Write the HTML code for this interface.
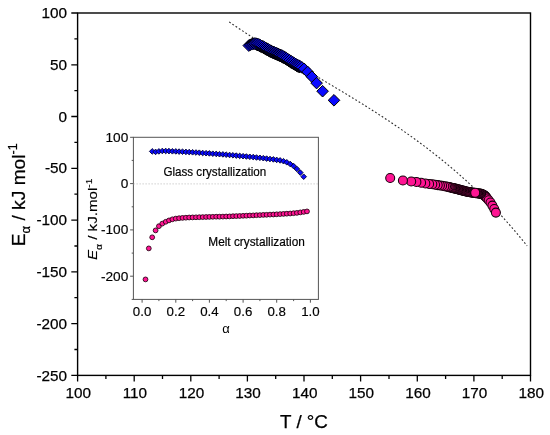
<!DOCTYPE html>
<html><head><meta charset="utf-8"><title>E alpha vs T</title>
<style>
html,body{margin:0;padding:0;background:#fff}
body{width:550px;height:435px;overflow:hidden}
svg{display:block}
text{font-family:"Liberation Sans",Arial,Helvetica,sans-serif;fill:#000}
.tl{font-size:15.3px;stroke:#000;stroke-width:0.25px}
.it{font-size:12.8px;stroke:#000;stroke-width:0.15px}
.lb{font-size:13.6px;stroke:#000;stroke-width:0.2px}
</style></head><body>
<svg width="550" height="435" viewBox="0 0 550 435">
<rect width="550" height="435" fill="#fff"/>
<path d="M229.2 21.9 L232.5 24.2 L235.9 26.5 L239.2 28.7 L242.6 30.9 L245.9 33.1 L249.3 35.3 L252.6 37.5 L256.0 39.6 L259.3 41.7 L262.7 43.8 L266.0 45.9 L269.4 48.0 L272.7 50.1 L276.1 52.1 L279.4 54.1 L282.8 56.2 L286.1 58.2 L289.4 60.2 L292.8 62.2 L296.1 64.2 L299.5 66.2 L302.8 68.2 L306.2 70.2 L309.5 72.2 L312.9 74.2 L316.2 76.1 L319.6 78.1 L322.9 80.1 L326.3 82.1 L329.6 84.1 L333.0 86.1 L336.3 88.1 L339.7 90.1 L343.0 92.1 L346.4 94.1 L349.7 96.2 L353.0 98.2 L356.4 100.3 L359.7 102.3 L363.1 104.4 L366.4 106.5 L369.8 108.6 L373.1 110.8 L376.5 112.9 L379.8 115.1 L383.2 117.3 L386.5 119.5 L389.9 121.7 L393.2 124.0 L396.6 126.2 L399.9 128.5 L403.3 130.9 L406.6 133.2 L409.9 135.6 L413.3 138.0 L416.6 140.4 L420.0 142.9 L423.3 145.4 L426.7 147.9 L430.0 150.5 L433.4 153.1 L436.7 155.7 L440.1 158.4 L443.4 161.1 L446.8 163.9 L450.1 166.7 L453.5 169.5 L456.8 172.4 L460.2 175.3 L463.5 178.3 L466.9 181.3 L470.2 184.4 L473.5 187.5 L476.9 190.7 L480.2 194.0 L483.6 197.3 L486.9 200.6 L490.3 204.0 L493.6 207.5 L497.0 211.0 L500.3 214.6 L503.7 218.3 L507.0 222.0 L510.4 225.8 L513.7 229.7 L517.1 233.6 L520.4 237.6 L523.8 241.7 L527.1 245.9" fill="none" stroke="#2a2a2a" stroke-width="1.1" stroke-dasharray="1.8 2.1"/>
<g fill="#0a0aff" stroke="#000" stroke-width="1">
<path d="M250.7 44.6l5.8 -5.8l5.8 5.8l-5.8 5.8zM252.2 45.2l5.8 -5.8l5.8 5.8l-5.8 5.8zM253.6 45.9l5.8 -5.8l5.8 5.8l-5.8 5.8zM255.1 46.6l5.8 -5.8l5.8 5.8l-5.8 5.8zM256.6 47.3l5.8 -5.8l5.8 5.8l-5.8 5.8zM258.0 48.1l5.8 -5.8l5.8 5.8l-5.8 5.8zM259.3 48.8l5.8 -5.8l5.8 5.8l-5.8 5.8zM260.6 49.5l5.8 -5.8l5.8 5.8l-5.8 5.8zM261.8 50.2l5.8 -5.8l5.8 5.8l-5.8 5.8zM263.1 50.9l5.8 -5.8l5.8 5.8l-5.8 5.8zM264.3 51.5l5.8 -5.8l5.8 5.8l-5.8 5.8zM265.4 52.1l5.8 -5.8l5.8 5.8l-5.8 5.8zM266.6 52.6l5.8 -5.8l5.8 5.8l-5.8 5.8zM267.8 53.1l5.8 -5.8l5.8 5.8l-5.8 5.8zM269.0 53.6l5.8 -5.8l5.8 5.8l-5.8 5.8zM270.2 54.1l5.8 -5.8l5.8 5.8l-5.8 5.8zM271.3 54.6l5.8 -5.8l5.8 5.8l-5.8 5.8zM272.4 55.1l5.8 -5.8l5.8 5.8l-5.8 5.8zM273.5 55.6l5.8 -5.8l5.8 5.8l-5.8 5.8zM274.7 56.2l5.8 -5.8l5.8 5.8l-5.8 5.8zM275.9 56.7l5.8 -5.8l5.8 5.8l-5.8 5.8zM277.1 57.4l5.8 -5.8l5.8 5.8l-5.8 5.8zM278.5 58.2l5.8 -5.8l5.8 5.8l-5.8 5.8zM279.9 59.0l5.8 -5.8l5.8 5.8l-5.8 5.8zM281.4 60.0l5.8 -5.8l5.8 5.8l-5.8 5.8zM283.0 61.0l5.8 -5.8l5.8 5.8l-5.8 5.8zM284.7 62.1l5.8 -5.8l5.8 5.8l-5.8 5.8zM286.3 63.1l5.8 -5.8l5.8 5.8l-5.8 5.8zM287.9 64.1l5.8 -5.8l5.8 5.8l-5.8 5.8zM289.4 64.9l5.8 -5.8l5.8 5.8l-5.8 5.8zM290.7 65.7l5.8 -5.8l5.8 5.8l-5.8 5.8zM292.1 66.4l5.8 -5.8l5.8 5.8l-5.8 5.8zM293.6 67.2l5.8 -5.8l5.8 5.8l-5.8 5.8z" fill="#000"/>
<path d="M243.0 45.6l5.8 -5.8l5.8 5.8l-5.8 5.8z"/>
<path d="M244.4 44.8l5.8 -5.8l5.8 5.8l-5.8 5.8z"/>
<path d="M245.8 44.3l5.8 -5.8l5.8 5.8l-5.8 5.8z"/>
<path d="M247.2 43.9l5.8 -5.8l5.8 5.8l-5.8 5.8z"/>
<path d="M248.6 43.6l5.8 -5.8l5.8 5.8l-5.8 5.8z"/>
<path d="M250.1 43.5l5.8 -5.8l5.8 5.8l-5.8 5.8z"/>
<path d="M251.5 43.8l5.8 -5.8l5.8 5.8l-5.8 5.8z"/>
<path d="M253.0 44.4l5.8 -5.8l5.8 5.8l-5.8 5.8z"/>
<path d="M254.4 45.1l5.8 -5.8l5.8 5.8l-5.8 5.8z"/>
<path d="M255.9 45.8l5.8 -5.8l5.8 5.8l-5.8 5.8z"/>
<path d="M257.4 46.5l5.8 -5.8l5.8 5.8l-5.8 5.8z"/>
<path d="M258.8 47.3l5.8 -5.8l5.8 5.8l-5.8 5.8z"/>
<path d="M260.1 48.0l5.8 -5.8l5.8 5.8l-5.8 5.8z"/>
<path d="M261.4 48.7l5.8 -5.8l5.8 5.8l-5.8 5.8z"/>
<path d="M262.6 49.4l5.8 -5.8l5.8 5.8l-5.8 5.8z"/>
<path d="M263.9 50.1l5.8 -5.8l5.8 5.8l-5.8 5.8z"/>
<path d="M265.1 50.7l5.8 -5.8l5.8 5.8l-5.8 5.8z"/>
<path d="M266.2 51.3l5.8 -5.8l5.8 5.8l-5.8 5.8z"/>
<path d="M267.4 51.8l5.8 -5.8l5.8 5.8l-5.8 5.8z"/>
<path d="M268.6 52.3l5.8 -5.8l5.8 5.8l-5.8 5.8z"/>
<path d="M269.8 52.8l5.8 -5.8l5.8 5.8l-5.8 5.8z"/>
<path d="M271.0 53.3l5.8 -5.8l5.8 5.8l-5.8 5.8z"/>
<path d="M272.1 53.8l5.8 -5.8l5.8 5.8l-5.8 5.8z"/>
<path d="M273.2 54.3l5.8 -5.8l5.8 5.8l-5.8 5.8z"/>
<path d="M274.3 54.8l5.8 -5.8l5.8 5.8l-5.8 5.8z"/>
<path d="M275.5 55.4l5.8 -5.8l5.8 5.8l-5.8 5.8z"/>
<path d="M276.7 55.9l5.8 -5.8l5.8 5.8l-5.8 5.8z"/>
<path d="M277.9 56.6l5.8 -5.8l5.8 5.8l-5.8 5.8z"/>
<path d="M279.3 57.4l5.8 -5.8l5.8 5.8l-5.8 5.8z"/>
<path d="M280.7 58.2l5.8 -5.8l5.8 5.8l-5.8 5.8z"/>
<path d="M282.2 59.2l5.8 -5.8l5.8 5.8l-5.8 5.8z"/>
<path d="M283.8 60.2l5.8 -5.8l5.8 5.8l-5.8 5.8z"/>
<path d="M285.5 61.3l5.8 -5.8l5.8 5.8l-5.8 5.8z"/>
<path d="M287.1 62.3l5.8 -5.8l5.8 5.8l-5.8 5.8z"/>
<path d="M288.7 63.3l5.8 -5.8l5.8 5.8l-5.8 5.8z"/>
<path d="M290.2 64.1l5.8 -5.8l5.8 5.8l-5.8 5.8z"/>
<path d="M291.5 64.9l5.8 -5.8l5.8 5.8l-5.8 5.8z"/>
<path d="M292.9 65.6l5.8 -5.8l5.8 5.8l-5.8 5.8z"/>
<path d="M294.4 66.4l5.8 -5.8l5.8 5.8l-5.8 5.8z"/>
<path d="M296.1 67.4l5.8 -5.8l5.8 5.8l-5.8 5.8z"/>
<path d="M298.3 68.8l5.8 -5.8l5.8 5.8l-5.8 5.8z"/>
<path d="M301.8 71.9l5.8 -5.8l5.8 5.8l-5.8 5.8z"/>
<path d="M306.1 76.7l5.8 -5.8l5.8 5.8l-5.8 5.8z"/>
<path d="M310.8 83.1l5.8 -5.8l5.8 5.8l-5.8 5.8z"/>
<path d="M316.8 91.2l5.8 -5.8l5.8 5.8l-5.8 5.8z"/>
<path d="M328.2 100.3l5.8 -5.8l5.8 5.8l-5.8 5.8z"/>
</g>
<g fill="#ff1493" stroke="#14000a" stroke-width="1.05">
<circle cx="481.9" cy="194.1" r="4.5"/>
<circle cx="482.6" cy="194.4" r="4.5"/>
<circle cx="483.3" cy="194.8" r="4.5"/>
<circle cx="484.0" cy="195.2" r="4.5"/>
<circle cx="484.6" cy="195.6" r="4.5"/>
<circle cx="485.2" cy="196.1" r="4.5"/>
<circle cx="485.7" cy="196.6" r="4.5"/>
<circle cx="486.2" cy="197.3" r="4.5"/>
<circle cx="487.2" cy="198.5" r="4.5"/>
<circle cx="488.7" cy="200.2" r="4.5"/>
<circle cx="490.5" cy="202.5" r="4.5"/>
<circle cx="492.4" cy="205.6" r="4.5"/>
<circle cx="494.3" cy="209.0" r="4.5"/>
<circle cx="495.9" cy="212.6" r="4.5"/>
<circle cx="481.1" cy="193.8" r="4.5"/>
<circle cx="480.4" cy="193.7" r="4.5"/>
<circle cx="479.6" cy="193.6" r="4.5"/>
<circle cx="478.9" cy="193.4" r="4.5"/>
<circle cx="478.1" cy="193.4" r="4.5"/>
<circle cx="477.3" cy="193.3" r="4.5"/>
<circle cx="476.5" cy="193.2" r="4.5"/>
<circle cx="475.7" cy="193.1" r="4.5"/>
<circle cx="475.0" cy="193.0" r="4.5"/>
<circle cx="474.2" cy="192.9" r="4.5"/>
<circle cx="473.4" cy="192.8" r="4.5"/>
<circle cx="472.6" cy="192.7" r="4.5"/>
<circle cx="471.9" cy="192.5" r="4.5"/>
<circle cx="471.1" cy="192.4" r="4.5"/>
<circle cx="470.3" cy="192.3" r="4.5"/>
<circle cx="469.6" cy="192.2" r="4.5"/>
<circle cx="468.8" cy="192.0" r="4.5"/>
<circle cx="468.0" cy="191.9" r="4.5"/>
<circle cx="467.3" cy="191.7" r="4.5"/>
<circle cx="466.5" cy="191.5" r="4.5"/>
<circle cx="465.8" cy="191.4" r="4.5"/>
<circle cx="465.0" cy="191.2" r="4.5"/>
<circle cx="464.2" cy="191.0" r="4.5"/>
<circle cx="463.5" cy="190.8" r="4.5"/>
<circle cx="462.7" cy="190.6" r="4.5"/>
<circle cx="462.0" cy="190.4" r="4.5"/>
<circle cx="461.2" cy="190.2" r="4.5"/>
<circle cx="460.5" cy="190.0" r="4.5"/>
<circle cx="459.7" cy="189.8" r="4.5"/>
<circle cx="459.0" cy="189.6" r="4.5"/>
<circle cx="458.2" cy="189.4" r="4.5"/>
<circle cx="457.5" cy="189.2" r="4.5"/>
<circle cx="456.7" cy="189.0" r="4.5"/>
<circle cx="455.9" cy="188.8" r="4.5"/>
<circle cx="455.2" cy="188.6" r="4.5"/>
<circle cx="454.4" cy="188.4" r="4.5"/>
<circle cx="453.7" cy="188.3" r="4.5"/>
<circle cx="452.9" cy="188.1" r="4.5"/>
<circle cx="452.1" cy="187.9" r="4.5"/>
<circle cx="451.4" cy="187.7" r="4.5"/>
<circle cx="450.5" cy="187.5" r="4.5"/>
<circle cx="449.6" cy="187.3" r="4.5"/>
<circle cx="448.6" cy="187.1" r="4.5"/>
<circle cx="447.4" cy="186.8" r="4.5"/>
<circle cx="446.0" cy="186.5" r="4.5"/>
<circle cx="444.3" cy="186.2" r="4.5"/>
<circle cx="442.1" cy="185.8" r="4.5"/>
<circle cx="439.9" cy="185.4" r="4.5"/>
<circle cx="437.7" cy="185.1" r="4.5"/>
<circle cx="435.1" cy="184.7" r="4.5"/>
<circle cx="432.3" cy="184.3" r="4.5"/>
<circle cx="429.1" cy="183.9" r="4.5"/>
<circle cx="425.3" cy="183.4" r="4.5"/>
<circle cx="421.1" cy="182.8" r="4.5"/>
<circle cx="416.4" cy="181.9" r="4.5"/>
<circle cx="411.2" cy="181.5" r="4.5"/>
<circle cx="402.9" cy="180.5" r="4.5"/>
<circle cx="390.2" cy="178.0" r="4.5"/>
<circle cx="475.2" cy="192.8" r="4.5"/>
</g>
<rect x="77.6" y="13" width="452.9" height="362.4" fill="none" stroke="#000" stroke-width="1.4"/>
<path d="M77.6 375.4h-6.3M77.6 349.5h-3.2M77.6 323.6h-6.3M77.6 297.7h-3.2M77.6 271.9h-6.3M77.6 246.0h-3.2M77.6 220.1h-6.3M77.6 194.2h-3.2M77.6 168.3h-6.3M77.6 142.4h-3.2M77.6 116.5h-6.3M77.6 90.7h-3.2M77.6 64.8h-6.3M77.6 38.9h-3.2M77.6 13.0h-6.3M77.6 375.4v6.0M105.9 375.4v3.6M134.2 375.4v6.0M162.5 375.4v3.6M190.8 375.4v6.0M219.1 375.4v3.6M247.4 375.4v6.0M275.7 375.4v3.6M304.0 375.4v6.0M332.3 375.4v3.6M360.6 375.4v6.0M389.0 375.4v3.6M417.3 375.4v6.0M445.6 375.4v3.6M473.9 375.4v6.0M502.2 375.4v3.6M530.5 375.4v6.0" stroke="#000" stroke-width="1.3" fill="none"/>
<text class="tl" x="67.1" y="380.5" text-anchor="end">-250</text>
<text class="tl" x="67.1" y="328.7" text-anchor="end">-200</text>
<text class="tl" x="67.1" y="277.0" text-anchor="end">-150</text>
<text class="tl" x="67.1" y="225.2" text-anchor="end">-100</text>
<text class="tl" x="67.1" y="173.4" text-anchor="end">-50</text>
<text class="tl" x="67.1" y="121.6" text-anchor="end">0</text>
<text class="tl" x="67.1" y="69.9" text-anchor="end">50</text>
<text class="tl" x="67.1" y="18.1" text-anchor="end">100</text>
<text class="tl" x="78.3" y="398.1" text-anchor="middle">100</text>
<text class="tl" x="134.9" y="398.1" text-anchor="middle">110</text>
<text class="tl" x="191.5" y="398.1" text-anchor="middle">120</text>
<text class="tl" x="248.1" y="398.1" text-anchor="middle">130</text>
<text class="tl" x="304.7" y="398.1" text-anchor="middle">140</text>
<text class="tl" x="361.3" y="398.1" text-anchor="middle">150</text>
<text class="tl" x="418.0" y="398.1" text-anchor="middle">160</text>
<text class="tl" x="474.6" y="398.1" text-anchor="middle">170</text>
<text class="tl" x="531.2" y="398.1" text-anchor="middle">180</text>
<text x="304" y="427.5" text-anchor="middle" font-size="18.8px" stroke="#000" stroke-width="0.25">T / °C</text>
<text transform="translate(24.8 246.2) rotate(-90)" font-size="19.2px" stroke="#000" stroke-width="0.25">E<tspan font-size="13px" dy="5.5">α</tspan><tspan dy="-5.5"> / kJ mol</tspan><tspan font-size="12.5px" dy="-7.5">-1</tspan></text>
<rect x="133.4" y="137.3" width="185" height="162.1" fill="#fff" stroke="#555" stroke-width="1"/>
<path d="M133.4 183.9H318.4" stroke="#c4c4c4" stroke-width="0.8" stroke-dasharray="1.5 1.5" fill="none"/>
<path d="M133.4 299.4h-1.7M133.4 276.2h-3.3M133.4 253.1h-1.7M133.4 229.9h-3.3M133.4 206.8h-1.7M133.4 183.6h-3.3M133.4 160.4h-1.7M133.4 137.3h-3.3M142.1 299.4v3.3M158.9 299.4v1.7M175.8 299.4v3.3M192.6 299.4v1.7M209.4 299.4v3.3M226.2 299.4v1.7M243.1 299.4v3.3M259.9 299.4v1.7M276.7 299.4v3.3M293.6 299.4v1.7M310.4 299.4v3.3" stroke="#555" stroke-width="1" fill="none"/>
<text class="it" x="128.3" y="141.7" text-anchor="end" textLength="22.8" lengthAdjust="spacingAndGlyphs">100</text>
<text class="it" x="128.3" y="188.0" text-anchor="end" textLength="7.6" lengthAdjust="spacingAndGlyphs">0</text>
<text class="it" x="128.3" y="234.3" text-anchor="end" textLength="27.4" lengthAdjust="spacingAndGlyphs">-100</text>
<text class="it" x="128.3" y="280.6" text-anchor="end" textLength="27.4" lengthAdjust="spacingAndGlyphs">-200</text>
<text class="it" x="142.1" y="316.4" text-anchor="middle" textLength="18.5" lengthAdjust="spacingAndGlyphs">0.0</text>
<text class="it" x="175.8" y="316.4" text-anchor="middle" textLength="18.5" lengthAdjust="spacingAndGlyphs">0.2</text>
<text class="it" x="209.4" y="316.4" text-anchor="middle" textLength="18.5" lengthAdjust="spacingAndGlyphs">0.4</text>
<text class="it" x="243.1" y="316.4" text-anchor="middle" textLength="18.5" lengthAdjust="spacingAndGlyphs">0.6</text>
<text class="it" x="276.7" y="316.4" text-anchor="middle" textLength="18.5" lengthAdjust="spacingAndGlyphs">0.8</text>
<text class="it" x="310.4" y="316.4" text-anchor="middle" textLength="18.5" lengthAdjust="spacingAndGlyphs">1.0</text>
<text x="226" y="332.6" text-anchor="middle" font-size="13px">α</text>
<text transform="translate(97.2 260) rotate(-90) scale(1.21 1)" font-size="12.5px" stroke="#000" stroke-width="0.15"><tspan font-style="italic">E</tspan><tspan font-size="8.5px" dy="4.5">α</tspan><tspan dy="-4.5"> / kJ.mol</tspan><tspan font-size="8.5px" dy="-5">-1</tspan></text>
<text class="lb" x="163.4" y="175.6" textLength="102.8" lengthAdjust="spacingAndGlyphs">Glass crystallization</text>
<text class="lb" x="208.3" y="246.2" textLength="96.6" lengthAdjust="spacingAndGlyphs">Melt crystallization</text>
<g fill="#ff1493" stroke="#20000f" stroke-width="0.85">
<circle cx="145.5" cy="279.4" r="2.4"/>
<circle cx="148.8" cy="248.4" r="2.4"/>
<circle cx="152.2" cy="237.3" r="2.4"/>
<circle cx="155.6" cy="230.4" r="2.4"/>
<circle cx="158.9" cy="226.2" r="2.4"/>
<circle cx="162.3" cy="223.6" r="2.4"/>
<circle cx="165.7" cy="221.8" r="2.4"/>
<circle cx="169.0" cy="220.4" r="2.4"/>
<circle cx="172.4" cy="219.3" r="2.4"/>
<circle cx="175.8" cy="218.6" r="2.4"/>
<circle cx="179.1" cy="218.2" r="2.4"/>
<circle cx="182.5" cy="217.9" r="2.4"/>
<circle cx="185.9" cy="217.7" r="2.4"/>
<circle cx="189.2" cy="217.5" r="2.4"/>
<circle cx="192.6" cy="217.4" r="2.4"/>
<circle cx="196.0" cy="217.3" r="2.4"/>
<circle cx="199.3" cy="217.2" r="2.4"/>
<circle cx="202.7" cy="217.1" r="2.4"/>
<circle cx="206.1" cy="217.0" r="2.4"/>
<circle cx="209.4" cy="216.9" r="2.4"/>
<circle cx="212.8" cy="216.8" r="2.4"/>
<circle cx="216.2" cy="216.7" r="2.4"/>
<circle cx="219.5" cy="216.7" r="2.4"/>
<circle cx="222.9" cy="216.6" r="2.4"/>
<circle cx="226.2" cy="216.5" r="2.4"/>
<circle cx="229.6" cy="216.4" r="2.4"/>
<circle cx="233.0" cy="216.2" r="2.4"/>
<circle cx="236.3" cy="216.1" r="2.4"/>
<circle cx="239.7" cy="216.0" r="2.4"/>
<circle cx="243.1" cy="215.8" r="2.4"/>
<circle cx="246.4" cy="215.7" r="2.4"/>
<circle cx="249.8" cy="215.5" r="2.4"/>
<circle cx="253.2" cy="215.4" r="2.4"/>
<circle cx="256.5" cy="215.2" r="2.4"/>
<circle cx="259.9" cy="215.1" r="2.4"/>
<circle cx="263.3" cy="214.9" r="2.4"/>
<circle cx="266.6" cy="214.8" r="2.4"/>
<circle cx="270.0" cy="214.6" r="2.4"/>
<circle cx="273.4" cy="214.5" r="2.4"/>
<circle cx="276.7" cy="214.3" r="2.4"/>
<circle cx="280.1" cy="214.1" r="2.4"/>
<circle cx="283.5" cy="213.9" r="2.4"/>
<circle cx="286.8" cy="213.7" r="2.4"/>
<circle cx="290.2" cy="213.5" r="2.4"/>
<circle cx="293.6" cy="213.2" r="2.4"/>
<circle cx="296.9" cy="212.9" r="2.4"/>
<circle cx="300.3" cy="212.4" r="2.4"/>
<circle cx="303.7" cy="211.9" r="2.4"/>
<circle cx="307.0" cy="211.4" r="2.4"/>
</g>
<g fill="#0a0aff" stroke="#000030" stroke-width="0.9">
<path d="M149.4 151.4l2.8 -2.8l2.8 2.8l-2.8 2.8z"/>
<path d="M152.8 151.9l2.8 -2.8l2.8 2.8l-2.8 2.8z"/>
<path d="M156.1 151.4l2.8 -2.8l2.8 2.8l-2.8 2.8z"/>
<path d="M159.5 151.0l2.8 -2.8l2.8 2.8l-2.8 2.8z"/>
<path d="M162.9 151.0l2.8 -2.8l2.8 2.8l-2.8 2.8z"/>
<path d="M166.2 151.1l2.8 -2.8l2.8 2.8l-2.8 2.8z"/>
<path d="M169.6 151.3l2.8 -2.8l2.8 2.8l-2.8 2.8z"/>
<path d="M173.0 151.4l2.8 -2.8l2.8 2.8l-2.8 2.8z"/>
<path d="M176.3 151.6l2.8 -2.8l2.8 2.8l-2.8 2.8z"/>
<path d="M179.7 151.7l2.8 -2.8l2.8 2.8l-2.8 2.8z"/>
<path d="M183.1 151.9l2.8 -2.8l2.8 2.8l-2.8 2.8z"/>
<path d="M186.4 152.1l2.8 -2.8l2.8 2.8l-2.8 2.8z"/>
<path d="M189.8 152.3l2.8 -2.8l2.8 2.8l-2.8 2.8z"/>
<path d="M193.2 152.5l2.8 -2.8l2.8 2.8l-2.8 2.8z"/>
<path d="M196.5 152.7l2.8 -2.8l2.8 2.8l-2.8 2.8z"/>
<path d="M199.9 153.0l2.8 -2.8l2.8 2.8l-2.8 2.8z"/>
<path d="M203.3 153.2l2.8 -2.8l2.8 2.8l-2.8 2.8z"/>
<path d="M206.6 153.4l2.8 -2.8l2.8 2.8l-2.8 2.8z"/>
<path d="M210.0 153.7l2.8 -2.8l2.8 2.8l-2.8 2.8z"/>
<path d="M213.4 153.9l2.8 -2.8l2.8 2.8l-2.8 2.8z"/>
<path d="M216.7 154.2l2.8 -2.8l2.8 2.8l-2.8 2.8z"/>
<path d="M220.1 154.4l2.8 -2.8l2.8 2.8l-2.8 2.8z"/>
<path d="M223.4 154.7l2.8 -2.8l2.8 2.8l-2.8 2.8z"/>
<path d="M226.8 155.0l2.8 -2.8l2.8 2.8l-2.8 2.8z"/>
<path d="M230.2 155.3l2.8 -2.8l2.8 2.8l-2.8 2.8z"/>
<path d="M233.5 155.6l2.8 -2.8l2.8 2.8l-2.8 2.8z"/>
<path d="M236.9 155.9l2.8 -2.8l2.8 2.8l-2.8 2.8z"/>
<path d="M240.3 156.2l2.8 -2.8l2.8 2.8l-2.8 2.8z"/>
<path d="M243.6 156.5l2.8 -2.8l2.8 2.8l-2.8 2.8z"/>
<path d="M247.0 156.8l2.8 -2.8l2.8 2.8l-2.8 2.8z"/>
<path d="M250.4 157.1l2.8 -2.8l2.8 2.8l-2.8 2.8z"/>
<path d="M253.7 157.5l2.8 -2.8l2.8 2.8l-2.8 2.8z"/>
<path d="M257.1 157.8l2.8 -2.8l2.8 2.8l-2.8 2.8z"/>
<path d="M260.5 158.2l2.8 -2.8l2.8 2.8l-2.8 2.8z"/>
<path d="M263.8 158.6l2.8 -2.8l2.8 2.8l-2.8 2.8z"/>
<path d="M267.2 159.0l2.8 -2.8l2.8 2.8l-2.8 2.8z"/>
<path d="M270.6 159.4l2.8 -2.8l2.8 2.8l-2.8 2.8z"/>
<path d="M273.9 159.9l2.8 -2.8l2.8 2.8l-2.8 2.8z"/>
<path d="M277.3 160.4l2.8 -2.8l2.8 2.8l-2.8 2.8z"/>
<path d="M280.7 161.2l2.8 -2.8l2.8 2.8l-2.8 2.8z"/>
<path d="M284.0 162.3l2.8 -2.8l2.8 2.8l-2.8 2.8z"/>
<path d="M287.4 164.0l2.8 -2.8l2.8 2.8l-2.8 2.8z"/>
<path d="M290.8 166.1l2.8 -2.8l2.8 2.8l-2.8 2.8z"/>
<path d="M294.1 169.0l2.8 -2.8l2.8 2.8l-2.8 2.8z"/>
<path d="M297.5 172.6l2.8 -2.8l2.8 2.8l-2.8 2.8z"/>
<path d="M300.9 176.7l2.8 -2.8l2.8 2.8l-2.8 2.8z"/>
</g>
</svg></body></html>
